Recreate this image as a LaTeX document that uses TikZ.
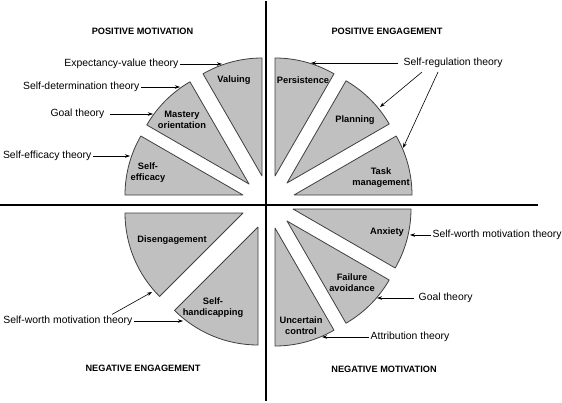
\documentclass[tikz,border=0pt]{standalone}
\usepackage{fontspec}
\setmainfont{Liberation Sans}
\usetikzlibrary{arrows.meta}

\definecolor{wedgefill}{RGB}{192,192,192}
\definecolor{wedgeline}{RGB}{64,64,64}

\begin{document}
\begin{tikzpicture}[x=1pt,y=1pt,
  wedge/.style={fill=wedgefill,draw=wedgeline,line width=0.8pt,line join=round},
  wedgelabel/.style={font=\fontsize{9.3}{11}\selectfont\bfseries,align=center,inner sep=0pt},
  quadtitle/.style={font=\fontsize{9.2}{11}\selectfont\bfseries,inner sep=0pt},
  theory/.style={font=\fontsize{10.4}{12}\selectfont,inner sep=1.5pt},
  axis/.style={line width=1.6pt},
  arr/.style={-{Stealth[length=5pt,width=3.5pt]},line width=0.6pt}]%
\useasboundingbox (0,0) rectangle (562,-402);%
% axes
\draw[axis] (266,-1) -- (266,-401);%
\draw[axis] (0,-205) -- (538,-205);%
% quadrant titles
\node[quadtitle] (posmot) at (142.5,-31) {POSITIVE MOTIVATION};%
\node[quadtitle] (poseng) at (387,-31) {POSITIVE ENGAGEMENT};%
\node[quadtitle] (negeng) at (143,-368) {NEGATIVE ENGAGEMENT};%
\node[quadtitle] (negmot) at (384,-369) {NEGATIVE MOTIVATION};%
% positive motivation
\filldraw[wedge] (262,-176) -- ++(90:118) arc[start angle=90,end angle=120,radius=118] -- cycle;%
\node[wedgelabel] (valuing) at (234,-80) {Valuing};%
\filldraw[wedge] (249,-184) -- ++(120:118) arc[start angle=120,end angle=150,radius=118] -- cycle;%
\node[wedgelabel] (mastery) at (182,-119.5) {Mastery\\orientation};%
\filldraw[wedge] (243,-195) -- ++(150:118) arc[start angle=150,end angle=180,radius=118] -- cycle;%
\node[wedgelabel] (selfeff) at (148,-173) {Self-\\efficacy};%
% positive engagement
\filldraw[wedge] (275,-176) -- ++(60:118) arc[start angle=60,end angle=90,radius=118] -- cycle;%
\node[wedgelabel] (persist) at (303,-80) {Persistence};%
\filldraw[wedge] (287,-183) -- ++(30:118) arc[start angle=30,end angle=60,radius=118] -- cycle;%
\node[wedgelabel] (planning) at (355,-120) {Planning};%
\filldraw[wedge] (294,-195) -- ++(0:118) arc[start angle=0,end angle=30,radius=118] -- cycle;%
\node[wedgelabel] (taskman) at (381,-177.5) {Task\\management};%
% negative engagement
\filldraw[wedge] (243,-213) -- ++(180:118) arc[start angle=180,end angle=225,radius=118] -- cycle;%
\node[wedgelabel] (diseng) at (172,-240) {Disengagement};%
\filldraw[wedge] (258,-227) -- ++(225:118) arc[start angle=225,end angle=270,radius=118] -- cycle;%
\node[wedgelabel] (selfhand) at (213,-307.5) {Self-\\handicapping};%
% negative motivation
\filldraw[wedge] (293,-209) -- ++(330:118) arc[start angle=330,end angle=360,radius=118] -- cycle;%
\node[wedgelabel] (anxiety) at (387,-232) {Anxiety};%
\filldraw[wedge] (287,-221) -- ++(300:118) arc[start angle=300,end angle=330,radius=118] -- cycle;%
\node[wedgelabel] (failavoid) at (352,-282.5) {Failure\\avoidance};%
\filldraw[wedge] (275,-228) -- ++(270:118) arc[start angle=270,end angle=300,radius=118] -- cycle;%
\node[wedgelabel] (uncertain) at (301,-325.5) {Uncertain\\control};%
% arrow ends on the arcs
\coordinate (valuingtip) at (222,-64);%
\coordinate (masterytip) at (180,-87);%
\coordinate (goaltip) at (153,-114);%
\coordinate (selfefftip) at (130,-156);%
\coordinate (persisttip) at (311,-63);%
\coordinate (planningtip) at (380,-107);%
\coordinate (tasktip) at (403,-148);%
\coordinate (disengtip) at (152,-292);%
\coordinate (selfhandtip) at (183,-321);%
\coordinate (anxietytip) at (410,-235);%
\coordinate (failtip) at (377,-298);%
\coordinate (uncertaintip) at (322,-337);%
% theories
\node[theory,anchor=east] (expval) at (180,-64) {Expectancy-value theory};%
\draw[arr] (expval.east) -- (valuingtip);%
\node[theory,anchor=east] (selfdet) at (141,-87) {Self-determination theory};%
\draw[arr] (selfdet.east) -- (masterytip);%
\node[theory,anchor=east] (goalpos) at (106,-114) {Goal theory};%
\draw[arr] ([xshift=4pt]goalpos.east) -- (goaltip);%
\node[theory,anchor=east] (selfeffth) at (93,-156) {Self-efficacy theory};%
\draw[arr] (selfeffth.east) -- (selfefftip);%
\node[theory,anchor=west] (selfreg) at (402,-63) {Self-regulation theory};%
\draw[arr] ([xshift=-4pt]selfreg.west) -- (persisttip);%
\draw[arr] ([xshift=20pt,yshift=-2.5pt]selfreg.south west) -- (planningtip);%
\draw[arr] ([xshift=36pt,yshift=-2.5pt]selfreg.south west) -- (tasktip);%
\node[theory,anchor=east] (selfworthl) at (134,-321) {Self-worth motivation theory};%
\draw[arr] (selfworthl.east) -- (selfhandtip);%
\draw[arr] ([xshift=-22pt]selfworthl.north east) -- (disengtip);%
\node[theory,anchor=west] (selfworthr) at (431,-235) {Self-worth motivation theory};%
\draw[arr] (selfworthr.west) -- (anxietytip);%
\node[theory,anchor=west] (goalneg) at (417,-298) {Goal theory};%
\draw[arr] ([xshift=-3pt]goalneg.west) -- (failtip);%
\node[theory,anchor=west] (attrib) at (369,-337) {Attribution theory};%
\draw[arr] (attrib.west) -- (uncertaintip);%
\end{tikzpicture}
\end{document}
